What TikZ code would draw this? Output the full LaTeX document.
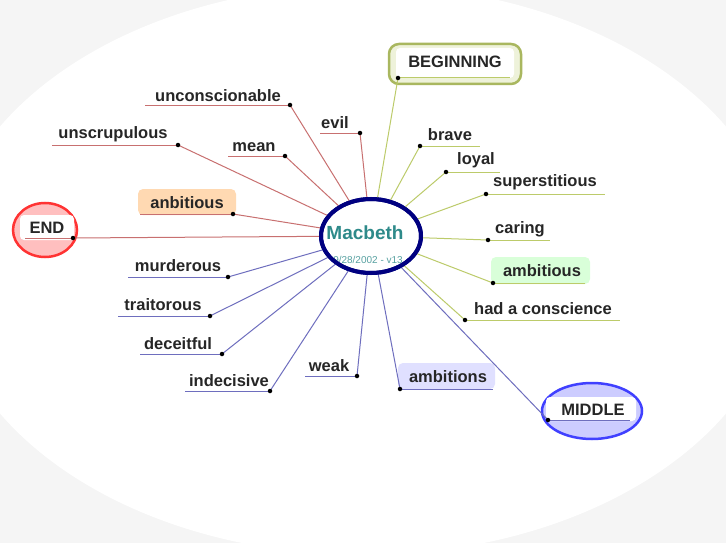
\documentclass[tikz,border=0pt]{standalone}
\usepackage{fontspec}
\setmainfont{Liberation Sans}
\usetikzlibrary{shapes.geometric}
\definecolor{redl}{HTML}{C87070}
\definecolor{bluel}{HTML}{6E6EBE}
\definecolor{grnl}{HTML}{BCCB6A}
\definecolor{teal}{HTML}{2E8A8A}
\begin{document}
\begin{tikzpicture}[x=1pt,y=-1pt,
 lbl/.style={font=\fontsize{16.5}{18}\selectfont\bfseries,text=black!85,inner sep=2pt},
 ul/.style={line width=1pt},
 br/.style={line width=1pt},
 dot/.style={circle,fill=black,inner sep=0pt,minimum size=4.5pt}]
\useasboundingbox (0,0) rectangle (726,543);
\begin{scope}
\clip (0,0) rectangle (726,543);
\fill[black!4] (0,0) rectangle (726,543);
\fill[white] (363,270) ellipse (420 and 285);
\end{scope}
\node[ellipse,draw=blue!50!black,line width=4pt,minimum width=100pt,minimum height=74pt,fill=white] (c) at (371,236) {};
\node[font=\fontsize{19}{21}\selectfont\bfseries,text=teal] (m) at (365,233) {Macbeth};
\node[font=\fontsize{10}{11}\selectfont,text=teal!80] (v) at (368,260) {9/28/2002 - v13};
% boxes
\node[draw=grnl!90!black,line width=2.5pt,fill=grnl!25,rounded corners=10pt,minimum width=132pt,minimum height=40pt] (bgb) at (455,64) {};
\node[ellipse,draw=red!80,line width=2.5pt,fill=red!25,minimum width=64pt,minimum height=54pt] (endb) at (45,230) {};
\node[ellipse,draw=blue!75,line width=2.5pt,fill=blue!20,minimum width=100pt,minimum height=56pt] (midb) at (592,411) {};
\fill[white,rounded corners=4pt] (20,215) rectangle (74,240);
\fill[white,rounded corners=4pt] (396,48) rectangle (514,78);
\fill[white,rounded corners=4pt] (546,397) rectangle (636,421);
\fill[orange!30,rounded corners=5pt] (138,189) rectangle (236,215);
\fill[green!15,rounded corners=5pt] (491,257) rectangle (590,284);
\fill[blue!12,rounded corners=5pt] (398,363) rectangle (495,389);
\newcommand\brL[7]{%
 \node[lbl] (t#1) at (#3,#4) {#2};
 \coordinate (a#1) at (#5,#7); \coordinate (d#1) at (#6,#7);
 \draw[ul,\brcol] (a#1) -- (d#1);
 \draw[br,\brcol] (c) -- (d#1);
 \node[dot] (p#1) at (d#1) {};}
\newcommand\brR[7]{%
 \node[lbl] (t#1) at (#3,#4) {#2};
 \coordinate (a#1) at (#6,#7); \coordinate (d#1) at (#5,#7);
 \draw[ul,\brcol] (d#1) -- (a#1);
 \draw[br,\brcol] (c) -- (d#1);
 \node[dot] (p#1) at (d#1) {};}
\def\brcol{redl}
\brL{un}{unconscionable}{218}{96}{145}{290}{105}
\brL{us}{unscrupulous}{113}{134}{52}{178}{145}
\brL{me}{mean}{254}{147}{228}{285}{156}
\brL{ev}{evil}{335}{123}{320}{360}{133}
\brL{an}{anbitious}{187}{203}{140}{233}{214}
\brL{en}{END}{47}{228}{25}{73}{238}
\def\brcol{bluel}
\brL{mu}{murderous}{178}{266}{128}{228}{277}
\brL{tr}{traitorous}{163}{305}{118}{210}{316}
\brL{de}{deceitful}{178}{344}{140}{222}{354}
\brL{in}{indecisive}{229}{381}{185}{270}{391}
\brL{we}{weak}{329}{366}{305}{357}{376}
\def\brcol{grnl}
\brR{be}{BEGINNING}{455}{62}{398}{510}{78}
\brR{br}{brave}{450}{135}{420}{480}{146}
\brR{lo}{loyal}{476}{160}{446}{500}{172}
\brR{su}{superstitious}{545}{182}{486}{605}{194}
\brR{ca}{caring}{520}{229}{488}{550}{240}
\brR{am}{ambitious}{542}{271}{493}{585}{283}
\brR{ha}{had a conscience}{543}{309}{465}{620}{320}
\def\brcol{bluel}
\brR{as}{ambitions}{448}{377}{400}{493}{389}
\brR{mi}{MIDDLE}{593}{410}{548}{630}{420}
\node[ellipse,draw=blue!50!black,line width=4pt,minimum width=100pt,minimum height=74pt] (c2) at (c) {};
\end{tikzpicture}
\end{document}
